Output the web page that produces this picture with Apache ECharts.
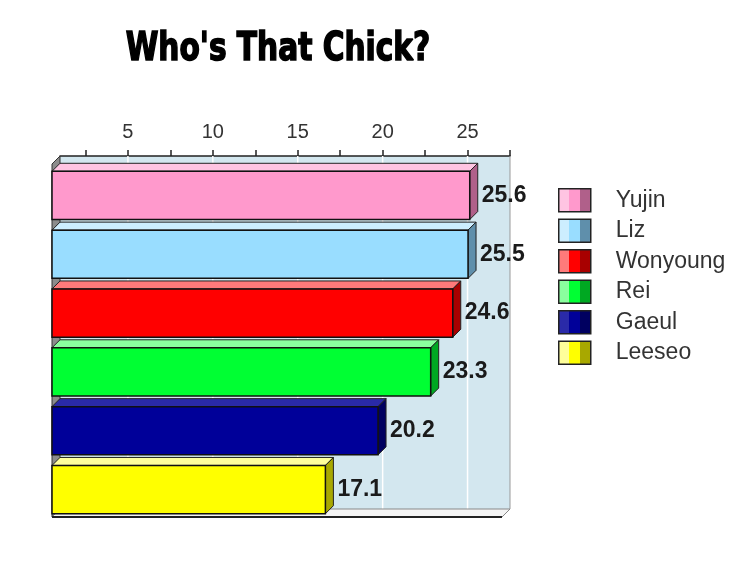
<!DOCTYPE html>
<html>
<head>
<meta charset="utf-8">
<title>Who's That Chick?</title>
<script src="https://cdn.jsdelivr.net/npm/echarts@6/dist/echarts.min.js"></script>
<style>
    html, body {margin: 0; padding: 0; background: #fff;}
    #chart {width: 755px; height: 580px;}
</style>
</head>
<body>
<div id="chart"></div>
<script>
var names = ['Yujin', 'Liz', 'Wonyoung', 'Rei', 'Gaeul', 'Leeseo'];
var values = [25.6, 25.5, 24.6, 23.3, 20.2, 17.1];
var tickValues = [2.5, 5, 7.5, 10, 12.5, 15, 17.5, 20, 22.5, 25, 27.5];
var labelValues = [5, 10, 15, 20, 25];
var gridValues = [5, 10, 15, 20, 25];

// front / top / side shades for each bar
var frontColors = ['#ff99cc', '#99ddff', '#ff0000', '#00ff33', '#000099', '#ffff00'];
var topColors = ['#ffc4e2', '#cdeeff', '#ff7a7a', '#8aff9e', '#2a2aa8', '#ffff9a'];
var sideColors = ['#b0608a', '#5f8fab', '#a80000', '#00a822', '#000060', '#a8a800'];

var depth = 8;

var chart = echarts.init(document.getElementById('chart'));

var stripe = function (i) {
    return new echarts.graphic.LinearGradient(0, 0, 1, 0, [
        {offset: 0, color: topColors[i]},
        {offset: 0.33, color: topColors[i]},
        {offset: 0.33, color: frontColors[i]},
        {offset: 0.67, color: frontColors[i]},
        {offset: 0.67, color: sideColors[i]},
        {offset: 1, color: sideColors[i]}
    ]);
};

// back wall gridlines, left wall and floor
var renderFrame = function (params, api) {
    var cs = params.coordSys;
    var d = depth;
    var children = [];
    for (var k = 0; k < gridValues.length; k++) {
        var gx = api.coord([gridValues[k], names[0]])[0];
        children.push({
            type: 'line',
            shape: {x1: gx, y1: cs.y, x2: gx, y2: cs.y + cs.height},
            style: {stroke: '#ffffff', lineWidth: 1.5}
        });
    }
    children.push({
        type: 'polygon',
        shape: {points: [[cs.x - d, cs.y + d], [cs.x, cs.y], [cs.x, cs.y + cs.height], [cs.x - d, cs.y + cs.height + d]]},
        style: {fill: '#8c8c8c', stroke: '#333', lineWidth: 1}
    });
    children.push({
        type: 'polygon',
        shape: {points: [[cs.x - d, cs.y + cs.height + d], [cs.x, cs.y + cs.height], [cs.x + cs.width, cs.y + cs.height], [cs.x + cs.width - d, cs.y + cs.height + d]]},
        style: {fill: '#f4f4f4', stroke: '#888', lineWidth: 1}
    });
    children.push({
        type: 'line',
        shape: {x1: cs.x - d, y1: cs.y + cs.height + d, x2: cs.x + cs.width - d, y2: cs.y + cs.height + d},
        style: {stroke: '#222', lineWidth: 2}
    });
    children.push({
        type: 'line',
        shape: {x1: cs.x + cs.width, y1: cs.y, x2: cs.x + cs.width, y2: cs.y + cs.height},
        style: {stroke: '#999', lineWidth: 1}
    });
    return {type: 'group', children: children};
};

var makeBarRenderer = function (i) {
    return function (params, api) {
        var cs = params.coordSys;
        var d = depth;
        var end = api.coord([api.value(0), api.value(1)]);
        var band = api.size([0, 1])[1];
        var h = band * 0.82;
        var x0 = cs.x;
        var x1 = end[0];
        var yT = end[1] - h / 2 + 2;
        var yB = yT + h;
        return {
            type: 'group',
            children: [{
                type: 'polygon',
                shape: {points: [[x0 - d, yT + d], [x0, yT], [x1, yT], [x1 - d, yT + d]]},
                style: {fill: topColors[i], stroke: '#222', lineWidth: 1}
            }, {
                type: 'polygon',
                shape: {points: [[x1 - d, yT + d], [x1, yT], [x1, yB], [x1 - d, yB + d]]},
                style: {fill: sideColors[i], stroke: '#222', lineWidth: 1}
            }, {
                type: 'rect',
                shape: {x: x0 - d, y: yT + d, width: x1 - x0, height: h},
                style: {fill: frontColors[i], stroke: '#111', lineWidth: 1.5}
            }, {
                type: 'text',
                style: {
                    text: String(api.value(0)),
                    x: x1 + 4,
                    y: yT + d + h / 2,
                    fill: '#1a1a1a',
                    fontSize: 23,
                    fontWeight: 'bold',
                    fontFamily: 'Arial, "Liberation Sans", sans-serif',
                    align: 'left',
                    verticalAlign: 'middle'
                }
            }]
        };
    };
};

var series = [{
    name: 'frame',
    type: 'custom',
    silent: true,
    z: 1,
    renderItem: renderFrame,
    data: [[0, names[0]]]
}];
var legendData = [];
for (var i = 0; i < names.length; i++) {
    series.push({
        name: names[i],
        type: 'custom',
        z: 2 + i,
        itemStyle: {color: frontColors[i]},
        renderItem: makeBarRenderer(i),
        data: [[values[i], names[i]]]
    });
    legendData.push({
        name: names[i],
        icon: 'rect',
        itemStyle: {color: stripe(i), borderColor: '#222', borderWidth: 1.5}
    });
}

var option = {
    animation: false,
    graphic: [{
        type: 'text',
        left: 125,
        top: 30,
        scaleX: 0.845,
        style: {
            text: "Who's That Chick?",
            fontSize: 39,
            fontWeight: 'bold',
            fontFamily: '"DejaVu Sans Condensed", sans-serif',
            fill: '#000',
            stroke: '#000',
            lineWidth: 1.5
        }
    }],
    legend: {
        orient: 'vertical',
        left: 553,
        top: 183,
        itemWidth: 32,
        itemHeight: 23,
        itemGap: 6,
        selectedMode: false,
        data: legendData,
        textStyle: {
            fontSize: 23,
            color: '#333',
            fontFamily: 'Arial, "Liberation Sans", sans-serif',
            padding: [0, 0, 0, 20]
        }
    },
    grid: {
        left: 60,
        right: 245,
        top: 156,
        bottom: 71,
        show: true,
        backgroundColor: '#d3e7ef',
        borderWidth: 0
    },
    xAxis: {
        type: 'value',
        position: 'top',
        min: 1,
        max: 27.5,
        axisLine: {show: true, lineStyle: {color: '#222', width: 1.5}},
        axisTick: {show: true, length: 6, customValues: tickValues, lineStyle: {color: '#222', width: 1.5}},
        axisLabel: {
            customValues: labelValues,
            fontSize: 20,
            color: '#333',
            margin: 14,
            fontFamily: 'Arial, "Liberation Sans", sans-serif'
        },
        splitLine: {show: false}
    },
    yAxis: {
        type: 'category',
        inverse: true,
        data: names,
        axisLine: {show: false},
        axisTick: {show: false},
        axisLabel: {show: false},
        splitLine: {show: false}
    },
    series: series
};
chart.setOption(option);
</script>
</body>
</html>
